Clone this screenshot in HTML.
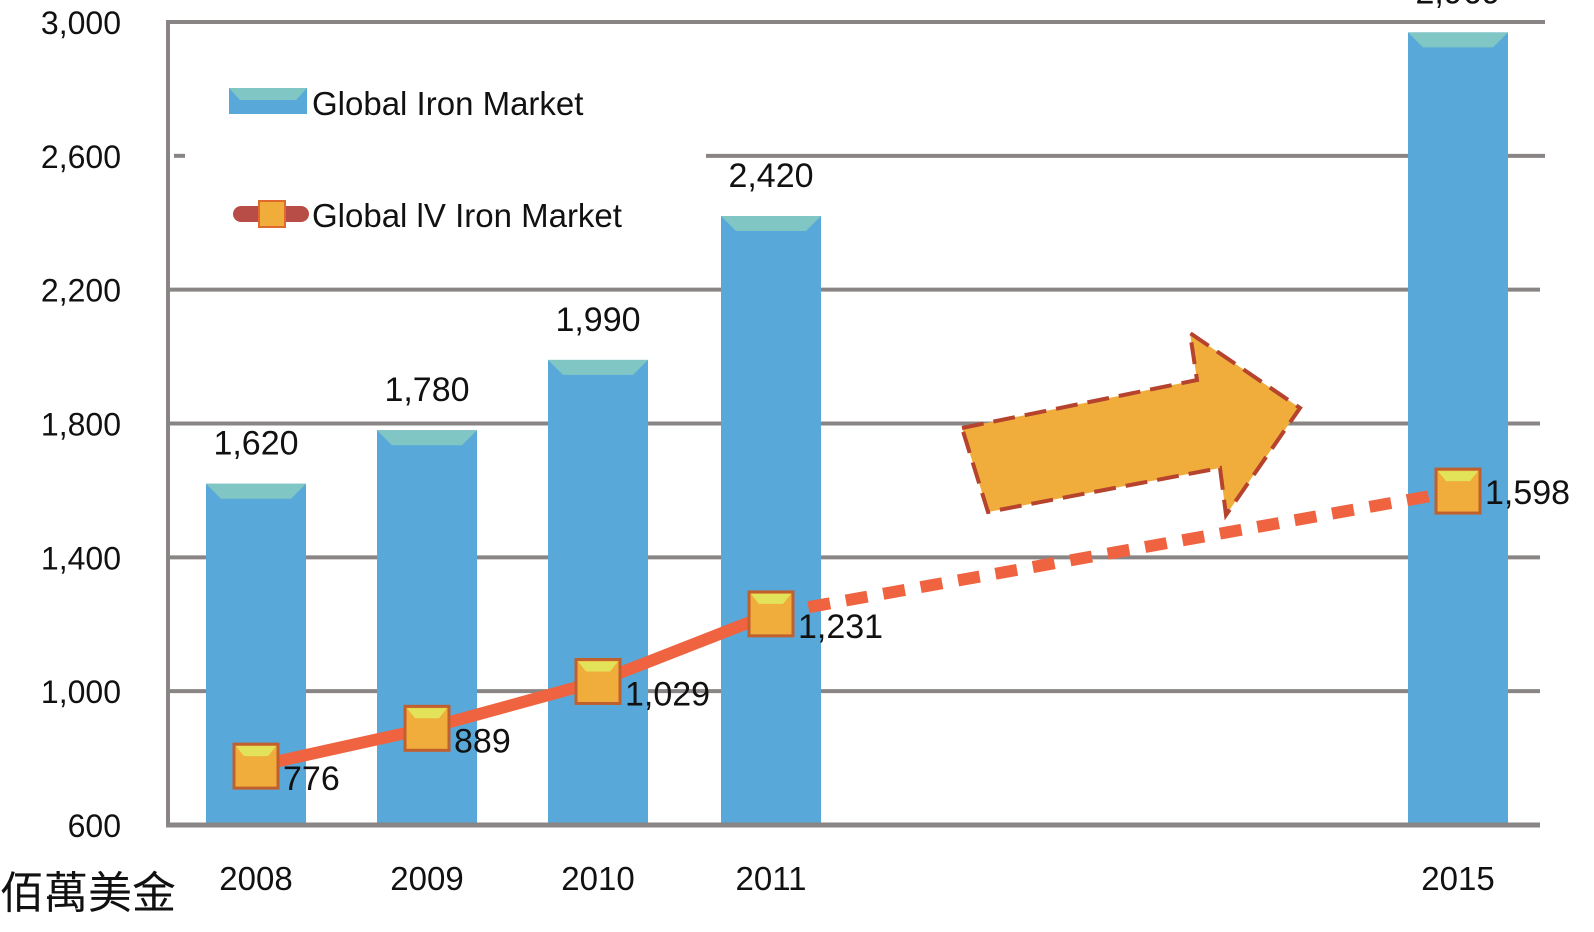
<!DOCTYPE html>
<html><head><meta charset="utf-8"><style>
body{margin:0;background:#fff;width:1594px;height:927px;overflow:hidden}
svg text{font-family:"Liberation Sans","Noto Sans CJK TC",sans-serif;fill:#111}
</style></head><body>
<svg id="chart" width="1594" height="927" xmlns="http://www.w3.org/2000/svg">
<g id="grid"></g>
<g id="bars"></g>
<g id="arrow-g">
<polygon points="962,428 1197,380 1190,333 1300,408 1226,515 1220,468 988,512" fill="#f0ad3c" stroke="#b5432e" stroke-width="4" stroke-dasharray="22,10"/>
</g>
<g id="line"></g>
<g id="legend">
<g>
<rect x="229" y="88" width="78" height="26" fill="#58a9d9"/>
<polygon points="229,88 307,88 296,100 240,100" fill="#7fc6c4"/>
<text x="312" y="115" font-size="33">Global Iron Market</text>
</g>
<g>
<rect x="233" y="206" width="76" height="16" rx="8" fill="#b84c46"/>
<rect x="259" y="201" width="26" height="26" fill="#f0ad3c" stroke="#e06a2c" stroke-width="2"/>
<text x="312" y="227" font-size="33">Global lV Iron Market</text>
</g>
</g>
<text x="0" y="908" font-size="44">佰萬美金</text>
</svg>
<script>
const years=["2008","2009","2010","2011","2015"];
const ironValues=[1620,1780,1990,2420,2969];
const ivValues=[776,889,1029,1231,1598];
const yTicks=[600,1000,1400,1800,2200,2600,3000];
const NS="http://www.w3.org/2000/svg";
const yPix=v=>825-(v-600)*(803/2400);
const xCenters={"2008":256,"2009":427,"2010":598,"2011":771,"2015":1458};
const xPix=c=>xCenters[c];
function mk(tag,attrs,parent,text){const e=document.createElementNS(NS,tag);for(const k in attrs)e.setAttribute(k,attrs[k]);if(text!==undefined)e.textContent=text;parent.appendChild(e);return e;}
const grid=document.getElementById('grid');
yTicks.forEach(t=>{
  const y=yPix(t);
  let x1=168,x2=1540;
  if(t===2600){x1=706;x2=1545;const tk=mk('line',{x1:174,x2:185,y1:y,y2:y,stroke:'#8a8585','stroke-width':4},grid);}
  if(t===3000)x2=1545;
  const l=mk('line',{x1:x1,x2:x2,y1:y,y2:y,stroke:'#8a8585','stroke-width':4},grid);
  
  
  const tx=mk('text',{x:121,y:y+12,'font-size':32,'text-anchor':'end'},grid,t.toLocaleString('en-US'));
  
  
});
const ax=mk('line',{x1:168,x2:168,y1:20,y2:827,stroke:'#8a8585','stroke-width':4},grid);


const bars=document.getElementById('bars');
years.forEach((yr,i)=>{
  const cx=xPix(yr),top=yPix(ironValues[i]),w=100;
  const r=mk('rect',{x:cx-w/2,y:top,width:w,height:825-top,fill:'#58a9d9'},bars);
  
  
  const p=mk('polygon',{points:`${cx-w/2},${top} ${cx+w/2},${top} ${cx+w/2-15},${top+15} ${cx-w/2+15},${top+15}`,fill:'#7fc6c4'},bars);
  
  
  const t=mk('text',{x:cx,y:top-29,'font-size':34,'text-anchor':'middle'},bars,ironValues[i].toLocaleString('en-US'));
  
  
  const xl=mk('text',{x:cx,y:890,'font-size':33,'text-anchor':'middle'},bars,yr);
  
  
});
const bx=mk('line',{x1:166,x2:1540,y1:825,y2:825,stroke:'#8a8585','stroke-width':5},bars);


const lg=document.getElementById('line');
const pts=years.map((yr,i)=>[xPix(yr),yPix(ivValues[i])]);
const solid=mk('polyline',{points:pts.slice(0,4).map(p=>p.join(',')).join(' '),fill:'none',stroke:'#ef6340','stroke-width':12},lg);


const d=mk('line',{x1:pts[3][0],y1:pts[3][1],x2:pts[4][0],y2:pts[4][1],stroke:'#ef6340','stroke-width':12,'stroke-dasharray':'22,16'},lg);


pts.forEach((p,i)=>{
  const g=mk('g',{},lg);
  
  
  const s=44;
  mk('rect',{x:p[0]-s/2,y:p[1]-s/2,width:s,height:s,fill:'#f0ad3c',stroke:'#c0602e','stroke-width':3},g);
  mk('polygon',{points:`${p[0]-s/2+2},${p[1]-s/2+2} ${p[0]+s/2-2},${p[1]-s/2+2} ${p[0]+s/2-10},${p[1]-s/2+12} ${p[0]-s/2+10},${p[1]-s/2+12}`,fill:'#e3e35a'},g);
  const t=mk('text',{x:p[0]+27,y:p[1]+(i===4?13:24),'font-size':34},lg,ivValues[i].toLocaleString('en-US'));
  
  
});
</script>
</body></html>
